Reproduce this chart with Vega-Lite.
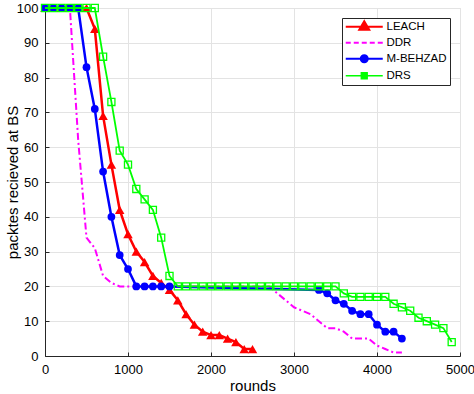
{
  "$schema": "https://vega.github.io/schema/vega-lite/v6.json",
  "width": 415,
  "height": 348,
  "autosize": "none",
  "padding": {"left": 45, "top": 8, "right": 14, "bottom": 38},
  "background": "white",
  "config": {
    "view": {"stroke": "#dcdcdc", "strokeWidth": 1},
    "axis": {
      "grid": true,
      "gridColor": "#e3e3e3",
      "gridWidth": 1,
      "domainColor": "#262626",
      "domainWidth": 1,
      "ticks": true,
      "tickSize": -4,
      "tickColor": "#262626",
      "labelFont": "Liberation Sans",
      "labelFontSize": 13,
      "labelColor": "#000000",
      "labelPadding": 11,
      "titleFont": "Liberation Sans",
      "titleFontSize": 15,
      "titleFontWeight": "normal",
      "titleColor": "#000000"
    }
  },
  "data": {
    "values": [
      {"s": "LEACH", "x": 0, "y": 100}, {"s": "LEACH", "x": 100, "y": 100}, {"s": "LEACH", "x": 200, "y": 100}, {"s": "LEACH", "x": 300, "y": 100}, {"s": "LEACH", "x": 400, "y": 100}, {"s": "LEACH", "x": 500, "y": 100}, {"s": "LEACH", "x": 600, "y": 94}, {"s": "LEACH", "x": 700, "y": 69}, {"s": "LEACH", "x": 800, "y": 55}, {"s": "LEACH", "x": 900, "y": 42}, {"s": "LEACH", "x": 1000, "y": 35}, {"s": "LEACH", "x": 1100, "y": 30}, {"s": "LEACH", "x": 1200, "y": 27}, {"s": "LEACH", "x": 1300, "y": 23}, {"s": "LEACH", "x": 1400, "y": 21}, {"s": "LEACH", "x": 1500, "y": 19}, {"s": "LEACH", "x": 1600, "y": 16}, {"s": "LEACH", "x": 1700, "y": 12}, {"s": "LEACH", "x": 1800, "y": 9}, {"s": "LEACH", "x": 1900, "y": 7}, {"s": "LEACH", "x": 2000, "y": 6}, {"s": "LEACH", "x": 2100, "y": 6}, {"s": "LEACH", "x": 2200, "y": 5}, {"s": "LEACH", "x": 2300, "y": 4}, {"s": "LEACH", "x": 2400, "y": 2}, {"s": "LEACH", "x": 2500, "y": 2},
      {"s": "DDR", "x": 0, "y": 100}, {"s": "DDR", "x": 100, "y": 100}, {"s": "DDR", "x": 200, "y": 100}, {"s": "DDR", "x": 300, "y": 100}, {"s": "DDR", "x": 400, "y": 62}, {"s": "DDR", "x": 500, "y": 34}, {"s": "DDR", "x": 600, "y": 31}, {"s": "DDR", "x": 700, "y": 23}, {"s": "DDR", "x": 800, "y": 21}, {"s": "DDR", "x": 900, "y": 20}, {"s": "DDR", "x": 2700, "y": 20}, {"s": "DDR", "x": 2800, "y": 18}, {"s": "DDR", "x": 2900, "y": 16}, {"s": "DDR", "x": 3000, "y": 14}, {"s": "DDR", "x": 3100, "y": 13}, {"s": "DDR", "x": 3200, "y": 12}, {"s": "DDR", "x": 3300, "y": 10}, {"s": "DDR", "x": 3400, "y": 8}, {"s": "DDR", "x": 3500, "y": 8}, {"s": "DDR", "x": 3600, "y": 7}, {"s": "DDR", "x": 3700, "y": 5}, {"s": "DDR", "x": 3800, "y": 5}, {"s": "DDR", "x": 3900, "y": 5}, {"s": "DDR", "x": 4000, "y": 3}, {"s": "DDR", "x": 4100, "y": 2}, {"s": "DDR", "x": 4200, "y": 1}, {"s": "DDR", "x": 4300, "y": 1},
      {"s": "M-BEHZAD", "x": 0, "y": 100}, {"s": "M-BEHZAD", "x": 100, "y": 100}, {"s": "M-BEHZAD", "x": 200, "y": 100}, {"s": "M-BEHZAD", "x": 300, "y": 100}, {"s": "M-BEHZAD", "x": 400, "y": 100}, {"s": "M-BEHZAD", "x": 500, "y": 83}, {"s": "M-BEHZAD", "x": 600, "y": 71}, {"s": "M-BEHZAD", "x": 700, "y": 53}, {"s": "M-BEHZAD", "x": 800, "y": 40}, {"s": "M-BEHZAD", "x": 900, "y": 29}, {"s": "M-BEHZAD", "x": 1000, "y": 25}, {"s": "M-BEHZAD", "x": 1100, "y": 20}, {"s": "M-BEHZAD", "x": 1200, "y": 20}, {"s": "M-BEHZAD", "x": 1300, "y": 20}, {"s": "M-BEHZAD", "x": 1400, "y": 20}, {"s": "M-BEHZAD", "x": 1500, "y": 20}, {"s": "M-BEHZAD", "x": 3300, "y": 19}, {"s": "M-BEHZAD", "x": 3400, "y": 18}, {"s": "M-BEHZAD", "x": 3500, "y": 16}, {"s": "M-BEHZAD", "x": 3600, "y": 15}, {"s": "M-BEHZAD", "x": 3700, "y": 13}, {"s": "M-BEHZAD", "x": 3800, "y": 12}, {"s": "M-BEHZAD", "x": 3900, "y": 12}, {"s": "M-BEHZAD", "x": 4000, "y": 9}, {"s": "M-BEHZAD", "x": 4100, "y": 7}, {"s": "M-BEHZAD", "x": 4200, "y": 7}, {"s": "M-BEHZAD", "x": 4300, "y": 5},
      {"s": "DRS", "x": 0, "y": 100}, {"s": "DRS", "x": 100, "y": 100}, {"s": "DRS", "x": 200, "y": 100}, {"s": "DRS", "x": 300, "y": 100}, {"s": "DRS", "x": 400, "y": 100}, {"s": "DRS", "x": 500, "y": 100}, {"s": "DRS", "x": 600, "y": 100}, {"s": "DRS", "x": 700, "y": 86}, {"s": "DRS", "x": 800, "y": 73}, {"s": "DRS", "x": 900, "y": 59}, {"s": "DRS", "x": 1000, "y": 55}, {"s": "DRS", "x": 1100, "y": 48}, {"s": "DRS", "x": 1200, "y": 45}, {"s": "DRS", "x": 1300, "y": 42}, {"s": "DRS", "x": 1400, "y": 34}, {"s": "DRS", "x": 1500, "y": 23}, {"s": "DRS", "x": 1600, "y": 20}, {"s": "DRS", "x": 1700, "y": 20}, {"s": "DRS", "x": 1800, "y": 20}, {"s": "DRS", "x": 1900, "y": 20}, {"s": "DRS", "x": 2000, "y": 20}, {"s": "DRS", "x": 2100, "y": 20}, {"s": "DRS", "x": 2200, "y": 20}, {"s": "DRS", "x": 2300, "y": 20}, {"s": "DRS", "x": 2400, "y": 20}, {"s": "DRS", "x": 2500, "y": 20}, {"s": "DRS", "x": 2600, "y": 20}, {"s": "DRS", "x": 2700, "y": 20}, {"s": "DRS", "x": 2800, "y": 20}, {"s": "DRS", "x": 2900, "y": 20}, {"s": "DRS", "x": 3000, "y": 20}, {"s": "DRS", "x": 3100, "y": 20}, {"s": "DRS", "x": 3200, "y": 20}, {"s": "DRS", "x": 3300, "y": 20}, {"s": "DRS", "x": 3400, "y": 20}, {"s": "DRS", "x": 3500, "y": 20}, {"s": "DRS", "x": 3600, "y": 18}, {"s": "DRS", "x": 3700, "y": 17}, {"s": "DRS", "x": 3800, "y": 17}, {"s": "DRS", "x": 3900, "y": 17}, {"s": "DRS", "x": 4000, "y": 17}, {"s": "DRS", "x": 4100, "y": 17}, {"s": "DRS", "x": 4200, "y": 15}, {"s": "DRS", "x": 4300, "y": 14}, {"s": "DRS", "x": 4400, "y": 13}, {"s": "DRS", "x": 4500, "y": 11}, {"s": "DRS", "x": 4600, "y": 10}, {"s": "DRS", "x": 4700, "y": 9}, {"s": "DRS", "x": 4800, "y": 8}, {"s": "DRS", "x": 4900, "y": 4}
    ]
  },
  "encoding": {
    "x": {
      "field": "x", "type": "quantitative",
      "scale": {"domain": [0, 5000], "nice": false},
      "axis": {"title": "rounds", "format": "d", "values": [0, 1000, 2000, 3000, 4000, 5000], "labelFlush": false, "titlePadding": 2}
    },
    "y": {
      "field": "y", "type": "quantitative",
      "scale": {"domain": [0, 100], "nice": false},
      "axis": {"title": "packtes recieved at BS", "format": "d", "values": [0, 10, 20, 30, 40, 50, 60, 70, 80, 90, 100], "titlePadding": -4}
    },
    "color": {
      "field": "s", "type": "nominal",
      "scale": {"domain": ["LEACH", "DDR", "M-BEHZAD", "DRS"], "range": ["#ff0000", "#ff00ff", "#0000ff", "#00ff00"]},
      "legend": {
        "title": null,
        "orient": "top-right",
        "offset": 10,
        "fillColor": "white",
        "strokeColor": "#262626",
        "padding": 3,
        "rowPadding": 2,
        "labelFont": "Liberation Sans",
        "labelFontSize": 11.5,
        "labelColor": "#000000",
        "labelOffset": 30,
        "symbolSize": 100,
        "encode": {
          "symbols": {
            "update": {
              "shape": {"signal": "datum.value === 'LEACH' ? 'M-1,0H6.4M2.7,-1.1L3.7,0.6L1.7,0.6Z' : datum.value === 'DDR' ? 'M-1,0H6.4' : datum.value === 'M-BEHZAD' ? 'M-1,0H6.4M2,0A0.7,0.7,0,1,0,3.4,0A0.7,0.7,0,1,0,2,0Z' : 'M-1,0H6.4M2.1,-0.6H3.3V0.6H2.1Z'"},
              "fill": {"signal": "datum.value === 'LEACH' ? '#ff0000' : datum.value === 'M-BEHZAD' ? '#0000ff' : 'transparent'"},
              "stroke": {"signal": "datum.value === 'LEACH' ? '#ff0000' : datum.value === 'DDR' ? '#ff00ff' : datum.value === 'M-BEHZAD' ? '#0000ff' : '#00ff00'"},
              "strokeWidth": {"signal": "datum.value === 'DRS' ? 1.3 : 2"},
              "strokeDash": {"signal": "datum.value === 'DDR' ? [5, 3] : []"},
              "opacity": {"value": 1}
            }
          }
        }
      }
    }
  },
  "layer": [
    {
      "transform": [{"filter": "datum.s === 'LEACH'"}],
      "mark": {"type": "line", "strokeWidth": 2.5, "point": {"shape": "triangle-up", "filled": true, "size": 90, "opacity": 1}}
    },
    {
      "transform": [{"filter": "datum.s === 'DDR'"}],
      "mark": {"type": "line", "strokeWidth": 2, "strokeDash": [7, 3, 2, 3]}
    },
    {
      "transform": [{"filter": "datum.s === 'M-BEHZAD'"}],
      "mark": {"type": "line", "strokeWidth": 2.5, "point": {"shape": "circle", "filled": true, "size": 60, "opacity": 1}}
    },
    {
      "transform": [{"filter": "datum.s === 'DRS'"}],
      "mark": {"type": "line", "strokeWidth": 1.8, "point": {"shape": "square", "filled": false, "size": 50, "strokeWidth": 1.3, "opacity": 1}}
    }
  ]
}
